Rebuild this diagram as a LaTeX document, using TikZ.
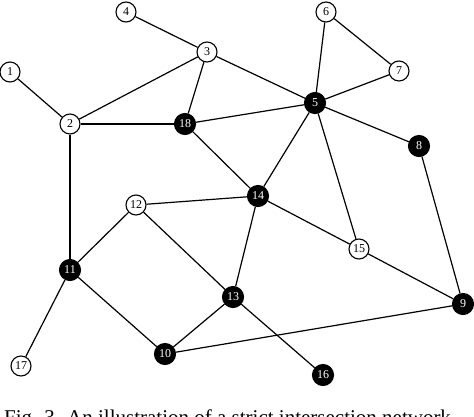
\documentclass[tikz,border=0pt]{standalone}
\usepackage{fontspec}
\setmainfont{Liberation Serif}
\begin{document}
\begin{tikzpicture}[x=1pt,y=-1pt,
  wnode/.style={circle,draw=black,line width=1.1pt,fill=white,minimum size=20pt,inner sep=0pt,font=\fontsize{12}{12}\selectfont},
  bnode/.style={circle,draw=black,line width=1.1pt,fill=black,text=white,minimum size=21pt,inner sep=0pt,font=\fontsize{12}{12}\selectfont},
  edge/.style={line width=1.2pt}]
\useasboundingbox (0,0) rectangle (474,416);
\clip (0,0) rectangle (474,416);
\node[wnode] (n1) at (10,72) {1};
\node[wnode] (n2) at (70,124) {2};
\node[wnode] (n3) at (207,52) {3};
\node[wnode] (n4) at (126,12) {4};
\node[bnode] (n5) at (315,103) {5};
\node[wnode] (n6) at (326,12) {6};
\node[wnode] (n7) at (399,71) {7};
\node[bnode] (n8) at (419,146) {8};
\node[bnode] (n9) at (463,304) {9};
\node[bnode] (n10) at (165,354) {10};
\node[bnode] (n11) at (70,270) {11};
\node[wnode] (n12) at (136,205) {12};
\node[bnode] (n13) at (233,297) {13};
\node[bnode] (n14) at (258,196) {14};
\node[wnode] (n15) at (359,249) {15};
\node[bnode] (n16) at (323,375) {16};
\node[wnode] (n17) at (21,366) {17};
\node[bnode] (n18) at (185,124) {18};
\begin{scope}[on background layer/.style={}]
\end{scope}
\foreach \a/\b in {n1/n2,n2/n3,n2/n18,n2/n11,n3/n4,n3/n18,n3/n5,n18/n5,n18/n14,n5/n6,n5/n7,n6/n7,n5/n8,n5/n14,n5/n15,n8/n9,n14/n12,n14/n13,n14/n15,n15/n9,n12/n11,n12/n13,n11/n10,n11/n17,n13/n10,n13/n16,n10/n9}
  \draw[edge] (\a) -- (\b);
\node[anchor=base west,inner sep=0pt,font=\fontsize{21}{21}\selectfont] (cap) at (4,424) {Fig. 3. An illustration of a strict intersection network};
\end{tikzpicture}
\end{document}
